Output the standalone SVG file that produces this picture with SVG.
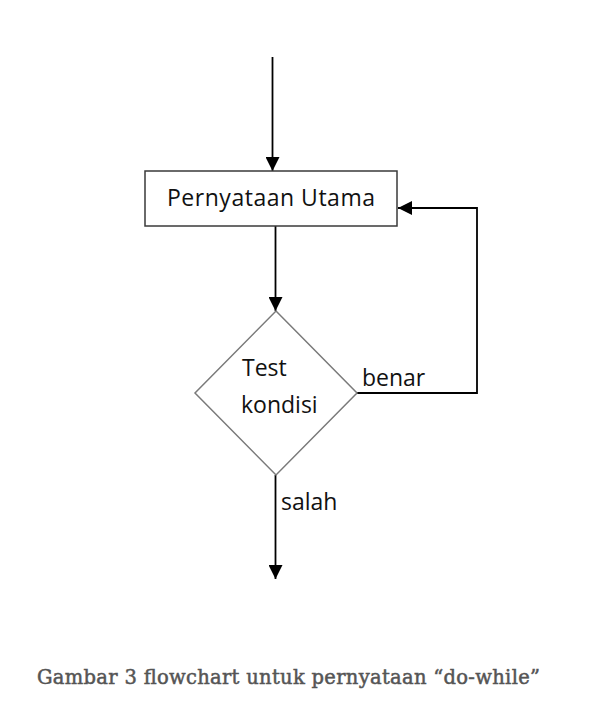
<svg xmlns="http://www.w3.org/2000/svg" width="590" height="717" viewBox="0 0 590 717">
<style>
.shape{fill:#fff;stroke:#3a3a3a;stroke-width:1.5}
.diam{fill:#fff;stroke:#7a7a7a;stroke-width:1.5}
.conn{fill:none;stroke:#000;stroke-width:1.8}
.lbl{font-family:"Open Sans","Noto Sans",sans-serif;font-size:23px;fill:#111}
.cap{font-family:"DejaVu Serif","Liberation Serif",serif;font-size:19.5px;fill:#555;stroke:#555;stroke-width:0.5}
</style>
<defs>
<marker id="ah" viewBox="0 0 14 14" refX="14" refY="7" markerWidth="14" markerHeight="14" markerUnits="userSpaceOnUse" orient="auto">
<path d="M0,0 L14,7 L0,14 Z" fill="#000"/>
</marker>
</defs>
<rect width="590" height="717" fill="#fff"/>
<g id="connectors">
<line class="conn" x1="272.5" y1="57" x2="272.5" y2="171" marker-end="url(#ah)"/>
<line class="conn" x1="275.5" y1="226" x2="275.5" y2="311" marker-end="url(#ah)"/>
<polyline class="conn" points="357,393 477,393 477,208 398,208" marker-end="url(#ah)"/>
<line class="conn" x1="275.5" y1="475" x2="275.5" y2="579" marker-end="url(#ah)"/>
</g>
<g id="node-pernyataan">
<rect class="shape" x="145" y="171" width="252" height="55"/>
<text class="lbl" x="167" y="206" textLength="208">Pernyataan Utama</text>
</g>
<g id="node-test">
<polygon class="diam" points="276,311 357,393 276,475 195,393"/>
<text class="lbl" x="242" y="376">Test</text>
<text class="lbl" x="241" y="413">kondisi</text>
</g>
<g id="labels">
<text class="lbl" x="362" y="386">benar</text>
<text class="lbl" x="281" y="510">salah</text>
</g>
<text class="cap" x="37" y="684" textLength="503">Gambar 3 flowchart untuk pernyataan “do-while”</text>
</svg>
